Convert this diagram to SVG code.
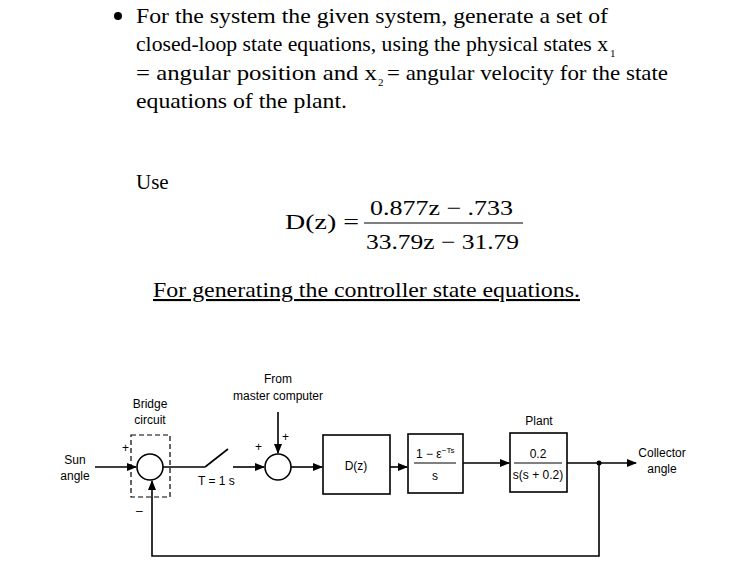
<svg xmlns="http://www.w3.org/2000/svg" width="730" height="581" viewBox="0 0 730 581">
<defs><marker id="ah" markerWidth="10" markerHeight="8" refX="9" refY="4" orient="auto" markerUnits="userSpaceOnUse"><path d="M0,0 L10,4 L0,8 z" fill="#000"/></marker></defs>
<style>
.t{font-family:"Liberation Serif",serif;font-size:21px;fill:#000}
.sub{font-family:"Liberation Serif",serif;font-size:11px;fill:#000}
.s{font-family:"Liberation Sans Narrow","Liberation Sans",sans-serif;font-size:12px;fill:#000}
.ln{stroke:#000;stroke-width:1.6;fill:none}
.bx{stroke:#000;stroke-width:1.6;fill:#fff}
</style>
<rect width="730" height="581" fill="#fff"/>
<g id="text">
<circle cx="118" cy="16" r="4" fill="#000"/>
<text class="t" x="136" y="23" textLength="472" lengthAdjust="spacingAndGlyphs">For the system the given system, generate a set of</text>
<text class="t" x="136" y="51" textLength="472" lengthAdjust="spacingAndGlyphs">closed-loop state equations, using the physical states x</text>
<text class="sub" x="610" y="57">1</text>
<text class="t" x="136" y="80" textLength="241" lengthAdjust="spacingAndGlyphs">= angular position and x</text>
<text class="sub" x="378" y="86">2</text>
<text class="t" x="387" y="80" textLength="281" lengthAdjust="spacingAndGlyphs">= angular velocity for the state</text>
<text class="t" x="136" y="108" textLength="211" lengthAdjust="spacingAndGlyphs">equations of the plant.</text>
<text class="t" x="136" y="189">Use</text>
<text class="t" x="285" y="229" textLength="74" lengthAdjust="spacingAndGlyphs">D(z) =</text>
<text class="t" x="370" y="215" textLength="143" lengthAdjust="spacingAndGlyphs">0.877z − .733</text>
<line x1="364" y1="223" x2="523" y2="223" stroke="#000" stroke-width="1.2"/>
<text class="t" x="366" y="249" textLength="153" lengthAdjust="spacingAndGlyphs">33.79z − 31.79</text>
<text class="t" x="153" y="297" text-decoration="underline" textLength="427" lengthAdjust="spacingAndGlyphs">For generating the controller state equations.</text>
</g>
<g id="connectors">
<line class="ln" x1="95" y1="467" x2="136" y2="467" marker-end="url(#ah)"/>
<line class="ln" x1="163" y1="467" x2="205" y2="467"/>
<line class="ln" x1="205" y1="467" x2="228" y2="449"/>
<line class="ln" x1="233" y1="467" x2="264" y2="467" marker-end="url(#ah)"/>
<line class="ln" x1="278" y1="412" x2="278" y2="453" marker-end="url(#ah)"/>
<line class="ln" x1="291" y1="467" x2="322" y2="467" marker-end="url(#ah)"/>
<line class="ln" x1="390" y1="467" x2="407" y2="467" marker-end="url(#ah)"/>
<line class="ln" x1="463" y1="463" x2="509" y2="463" marker-end="url(#ah)"/>
<line class="ln" x1="567" y1="463" x2="636" y2="463" marker-end="url(#ah)"/>
<circle cx="599" cy="463" r="2.5" fill="#000"/>
<polyline class="ln" points="599,463 599,556 152,556 152,481" marker-end="url(#ah)"/>
</g>
<g id="sum1">
<rect x="131" y="435" width="39" height="62" fill="none" stroke="#000" stroke-width="1.2" stroke-dasharray="5,3"/>
<circle class="bx" cx="150" cy="467" r="13"/>
<text class="s" x="122" y="452">+</text>
<text class="s" x="136" y="515">–</text>
<text class="s" x="150" y="408" text-anchor="middle">Bridge</text>
<text class="s" x="150" y="424" text-anchor="middle">circuit</text>
<text class="s" x="75" y="464" text-anchor="middle">Sun</text>
<text class="s" x="75" y="480" text-anchor="middle">angle</text>
<text class="s" x="198" y="485">T = 1 s</text>
</g>
<g id="sum2">
<circle class="bx" cx="278" cy="467" r="13"/>
<text class="s" x="255" y="451">+</text>
<text class="s" x="282" y="441">+</text>
<text class="s" x="278" y="383" text-anchor="middle">From</text>
<text class="s" x="278" y="400" text-anchor="middle">master computer</text>
</g>
<g id="dz">
<rect class="bx" x="323" y="435" width="67" height="59"/>
<text class="s" x="356" y="470" text-anchor="middle">D(z)</text>
</g>
<g id="zoh">
<rect class="bx" x="408" y="434" width="55" height="59"/>
<text class="s" x="416" y="458">1 − ε<tspan font-size="8" dy="-5">−Ts</tspan></text>
<line x1="414" y1="463" x2="456" y2="463" stroke="#000" stroke-width="1"/>
<text class="s" x="435" y="480" text-anchor="middle">s</text>
</g>
<g id="plant">
<rect class="bx" x="510" y="433" width="57" height="59"/>
<text class="s" x="539" y="425" text-anchor="middle">Plant</text>
<text class="s" x="538" y="458" text-anchor="middle">0.2</text>
<line x1="514" y1="463" x2="562" y2="463" stroke="#000" stroke-width="1"/>
<text class="s" x="538" y="479" text-anchor="middle">s(s + 0.2)</text>
<text class="s" x="662" y="457" text-anchor="middle">Collector</text>
<text class="s" x="662" y="473" text-anchor="middle">angle</text>
</g>
</svg>
